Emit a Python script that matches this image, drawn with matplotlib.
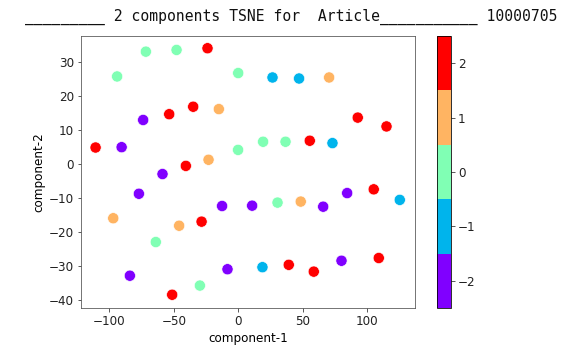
import matplotlib
matplotlib.use('Agg')
import matplotlib.pyplot as plt
import numpy as np

# TSNE coordinates, with class labels (-2 .. 2)
comp1 = [-71.7, -47.9, -23.9, -94.0, -0.1, -73.8, -53.6, -35.0, -15.1,
         -110.7, -90.5, -0.2, -23.1, -40.7, -58.8,
         26.5, 47.1, 70.4, 92.6, 114.9, 19.2, 36.6, 55.4, 73.0,
         -77.1, -12.6, 10.7, -97.0, -45.9, -28.5, -64.0, -84.1, -8.4,
         -29.8, -51.3,
         30.4, 48.4, 65.8, 84.4, 105.0, 125.2, 18.7, 39.1, 58.5, 80.0, 108.9]
comp2 = [33.1, 33.6, 34.1, 25.8, 26.8, 13.0, 14.7, 16.9, 16.2,
         4.9, 5.0, 4.2, 1.3, -0.5, -2.9,
         25.5, 25.2, 25.5, 13.7, 11.1, 6.6, 6.6, 6.9, 6.2,
         -8.7, -12.3, -12.2, -15.9, -18.1, -16.9, -22.9, -32.8, -30.9,
         -35.7, -38.4,
         -11.3, -11.0, -12.5, -8.5, -7.4, -10.5, -30.3, -29.6, -31.6, -28.4, -27.6]
labels = [0, 0, 2, 0, 0, -2, 2, 2, 1,
          2, -2, 0, 1, 2, -2,
          -1, -1, 1, 2, 2, 0, 0, 2, -1,
          -2, -2, -2, 1, 1, 2, 0, -2, -2,
          0, 2,
          0, 1, -2, -2, 2, -1, -1, 2, 2, -2, 2]

title_text = "_________ 2 components TSNE for  Article___________ 10000705"

plt.rcParams['font.size'] = 12

W, H = 573, 355
fig = plt.figure(figsize=(W / 72, H / 72), dpi=72)
ax = fig.add_axes([81 / W, 1 - 308 / H, (415 - 81) / W, (308 - 36) / H])
cax = fig.add_axes([437 / W, 1 - 308 / H, (451 - 437) / W, (308 - 36) / H])

cmap = plt.get_cmap('rainbow', 5)
sc = ax.scatter(comp1, comp2, c=labels, cmap=cmap, vmin=-2.5, vmax=2.5,
                s=125, edgecolors='white', linewidths=0.6)
ax.set_xlim(-122, 137)
ax.set_ylim(-42.3, 37.7)
ax.set_xticks([-100, -50, 0, 50, 100])
ax.set_yticks([-40, -30, -20, -10, 0, 10, 20, 30])
ax.set_xlabel('component-1', labelpad=4)
ax.set_ylabel('component-2', labelpad=3)
for a in (ax, cax):
    for sp in a.spines.values():
        sp.set_edgecolor('#555555')
    a.tick_params(colors='#333333', labelcolor='#222222')

cb = fig.colorbar(sc, cax=cax, ticks=[-2, -1, 0, 1, 2])

fig.text(25 / W, 1 - 17 / H, title_text, family='DejaVu Sans Mono',
         fontsize=14.8, ha='left', va='center', color='#111111')

fig.savefig('out.png', dpi=72)
